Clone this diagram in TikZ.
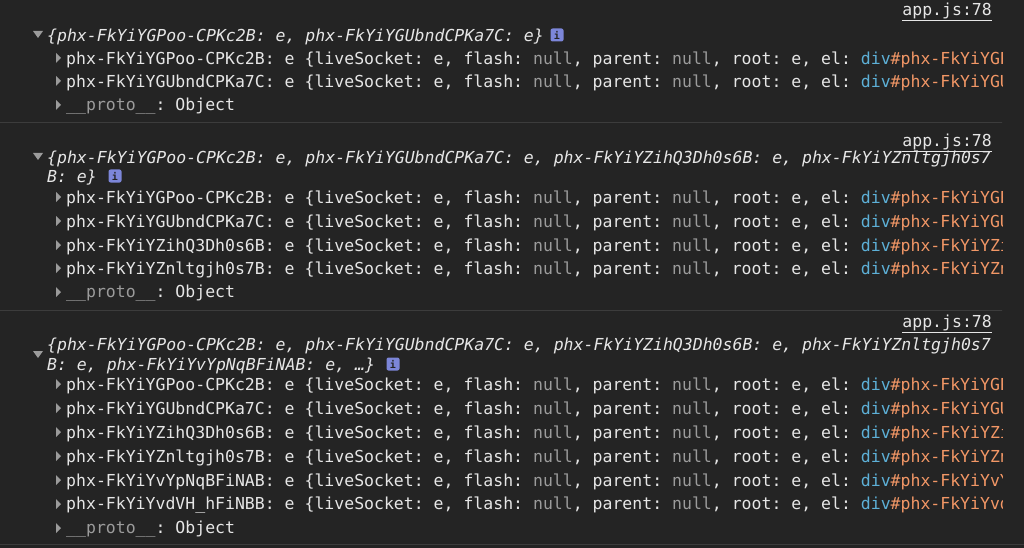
\documentclass[tikz,border=0pt]{standalone}
\usepackage{fontspec}
\setmonofont{DejaVu Sans Mono}
\definecolor{bgc}{HTML}{242424}
\definecolor{txtc}{HTML}{E6E6E6}
\definecolor{nullc}{HTML}{9B9B9B}
\definecolor{divc}{HTML}{5DB0D7}
\definecolor{idc}{HTML}{F29766}
\definecolor{sepc}{HTML}{3C3C3C}
\definecolor{infoc}{HTML}{7C86D9}
\tikzset{
  txt/.style={anchor=west, inner sep=0pt, yshift=-1.5pt, text=txtc, font=\ttfamily\fontsize{16.5}{19}\selectfont},
  hdr/.style={txt, font=\ttfamily\itshape\fontsize{16.5}{19}\selectfont},
  link/.style={anchor=east, inner sep=0pt, text=txtc, font=\ttfamily\fontsize{16.5}{19}\selectfont},
  infobox/.style={fill=infoc, rounded corners=2pt, minimum width=13pt, minimum height=13pt, inner sep=0pt, text=bgc, font=\ttfamily\bfseries\fontsize{10}{10}\selectfont},
}
\newcommand{\nl}{\textcolor{nullc}{null}}
% one child row of a logged object
\newcommand{\objrow}[4]{%
  \fill[nullc] (56,#1-5) -- (61,#1) -- (56,#1+5) -- cycle;
  \node[txt] (#2) at (66,#1) {#3: e \{liveSocket: e, flash: \nl, parent: \nl, root: e, el: \textcolor{divc}{div}\textcolor{idc}{\##4}};}
\newcommand{\protorow}[2]{%
  \fill[nullc] (56,#1-5) -- (61,#1) -- (56,#1+5) -- cycle;
  \node[txt] (#2) at (66,#1) {\textcolor{nullc}{\_\_proto\_\_}: Object};}
\newcommand{\opentri}[1]{\fill[nullc] (33,#1-4) -- (43,#1-4) -- (38,#1+3) -- cycle;}
\begin{document}
\begin{tikzpicture}[x=1pt,y=-1pt]
\fill[bgc] (0,0) rectangle (1024,548);
\useasboundingbox (0,0) rectangle (1024,548);
\begin{scope}
\clip (0,0) rectangle (1002,548);
% first log
\node[link] (src1) at (992,12) {\underline{app.js:78}};
\opentri{35}
\node[hdr] (head1) at (47,35) {\{phx-FkYiYGPoo-CPKc2B: e, phx-FkYiYGUbndCPKa7C: e\}};
\node[infobox] (info1) at (557,35) {i};
\objrow{58}{r11}{phx-FkYiYGPoo-CPKc2B}{phx-FkYiYGPoo-CPKc2B}
\objrow{81}{r12}{phx-FkYiYGUbndCPKa7C}{phx-FkYiYGUbndCPKa7C}
\protorow{105}{p1}
\draw[sepc] (0,122) -- (1024,122);
% second log
\node[link] (src2) at (992,143) {\underline{app.js:78}};
\opentri{157}
\node[hdr] (head2a) at (47,157) {\{phx-FkYiYGPoo-CPKc2B: e, phx-FkYiYGUbndCPKa7C: e, phx-FkYiYZihQ3Dh0s6B: e, phx-FkYiYZnltgjh0s7};
\node[hdr] (head2b) at (47,176) {B: e\}};
\node[infobox] (info2) at (115,176) {i};
\objrow{197}{r21}{phx-FkYiYGPoo-CPKc2B}{phx-FkYiYGPoo-CPKc2B}
\objrow{221}{r22}{phx-FkYiYGUbndCPKa7C}{phx-FkYiYGUbndCPKa7C}
\objrow{245}{r23}{phx-FkYiYZihQ3Dh0s6B}{phx-FkYiYZihQ3Dh0s6B}
\objrow{268}{r24}{phx-FkYiYZnltgjh0s7B}{phx-FkYiYZnltgjh0s7B}
\protorow{292}{p2}
\draw[sepc] (0,310) -- (1024,310);
% third log
\node[link] (src3) at (992,324) {\underline{app.js:78}};
\opentri{355}
\node[hdr] (head3a) at (47,344) {\{phx-FkYiYGPoo-CPKc2B: e, phx-FkYiYGUbndCPKa7C: e, phx-FkYiYZihQ3Dh0s6B: e, phx-FkYiYZnltgjh0s7};
\node[hdr] (head3b) at (47,364) {B: e, phx-FkYiYvYpNqBFiNAB: e, …\}};
\node[infobox] (info3) at (393,364) {i};
\objrow{384}{r31}{phx-FkYiYGPoo-CPKc2B}{phx-FkYiYGPoo-CPKc2B}
\objrow{408}{r32}{phx-FkYiYGUbndCPKa7C}{phx-FkYiYGUbndCPKa7C}
\objrow{432}{r33}{phx-FkYiYZihQ3Dh0s6B}{phx-FkYiYZihQ3Dh0s6B}
\objrow{456}{r34}{phx-FkYiYZnltgjh0s7B}{phx-FkYiYZnltgjh0s7B}
\objrow{480}{r35}{phx-FkYiYvYpNqBFiNAB}{phx-FkYiYvYpNqBFiNAB}
\objrow{504}{r36}{phx-FkYiYvdVH\_hFiNBB}{phx-FkYiYvdVH\_hFiNBB}
\protorow{528}{p3}
\end{scope}
\draw[sepc] (0,544) -- (1024,544);
\end{tikzpicture}
\end{document}
